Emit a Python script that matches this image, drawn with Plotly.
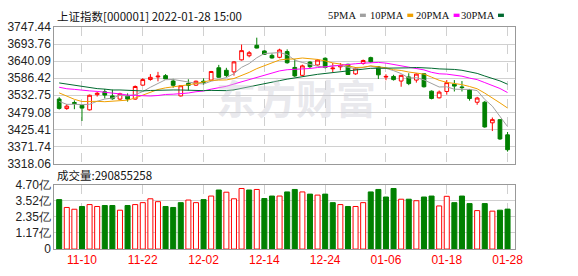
import plotly.graph_objects as go
import pandas as pd

# ---------------- data ----------------
title_text = "上证指数[000001] 2022-01-28 15:00"
dates = ["11-05", "11-08", "11-09", "11-10", "11-11", "11-12", "11-15", "11-16", "11-17", "11-18",
         "11-19", "11-22", "11-23", "11-24", "11-25", "11-26", "11-29", "11-30", "12-01", "12-02",
         "12-03", "12-06", "12-07", "12-08", "12-09", "12-10", "12-13", "12-14", "12-15", "12-16",
         "12-17", "12-20", "12-21", "12-22", "12-23", "12-24", "12-27", "12-28", "12-29", "12-30",
         "12-31", "01-04", "01-05", "01-06", "01-07", "01-10", "01-11", "01-12", "01-13", "01-14",
         "01-17", "01-18", "01-19", "01-20", "01-21", "01-24", "01-25", "01-26", "01-27", "01-28"]

opens = [3521.0, 3491.0, 3510.0, 3501.0, 3487.0, 3534.7, 3543.7, 3530.8, 3520.8, 3530.8,
         3520.8, 3564.6, 3582.4, 3590.4, 3594.4, 3577.5, 3530.8, 3570.0, 3564.6, 3577.0,
         3580.5, 3619.2, 3611.3, 3606.3, 3644.0, 3657.0, 3689.8, 3672.0, 3658.0, 3652.0,
         3670.0, 3620.2, 3595.4, 3637.0, 3628.0, 3649.0, 3616.0, 3622.0, 3630.0, 3600.0,
         3632.6, 3651.0, 3622.0, 3590.0, 3592.0, 3577.5, 3590.4, 3580.5, 3600.3, 3545.7,
         3524.8, 3544.7, 3567.5, 3559.0, 3549.6, 3510.9, 3510.9, 3446.3, 3456.2, 3408.5]
highs = [3527.0, 3505.0, 3516.8, 3503.0, 3535.0, 3543.7, 3552.6, 3550.6, 3540.7, 3538.7,
         3563.6, 3586.4, 3599.3, 3606.3, 3599.3, 3584.4, 3564.0, 3583.0, 3579.0, 3586.0,
         3609.3, 3628.2, 3619.0, 3640.0, 3692.0, 3672.0, 3713.7, 3673.9, 3664.0, 3679.0,
         3677.0, 3647.0, 3629.0, 3640.0, 3646.0, 3652.0, 3634.0, 3634.0, 3632.0, 3621.0,
         3645.0, 3654.0, 3624.0, 3599.0, 3597.0, 3597.0, 3602.0, 3602.0, 3602.0, 3548.0,
         3547.7, 3580.5, 3580.5, 3577.5, 3552.6, 3527.8, 3515.0, 3463.0, 3457.0, 3417.4]
lows = [3488.0, 3487.0, 3489.0, 3452.0, 3485.0, 3528.8, 3522.8, 3518.8, 3518.0, 3512.9,
        3518.8, 3563.0, 3578.5, 3576.5, 3584.0, 3556.6, 3528.8, 3548.0, 3562.0, 3566.0,
        3578.5, 3587.4, 3590.0, 3594.5, 3642.0, 3652.0, 3679.9, 3660.0, 3648.0, 3649.0,
        3632.0, 3590.4, 3593.0, 3618.0, 3626.0, 3617.0, 3605.0, 3611.0, 3597.0, 3597.0,
        3629.0, 3635.0, 3584.0, 3580.0, 3579.0, 3559.6, 3564.6, 3572.5, 3557.0, 3520.0,
        3522.8, 3534.7, 3544.7, 3544.7, 3515.9, 3503.0, 3431.0, 3420.4, 3392.6, 3355.8]
closes = [3491.6, 3498.6, 3507.0, 3492.5, 3532.8, 3539.1, 3533.3, 3521.8, 3537.4, 3520.7,
          3560.4, 3582.1, 3589.1, 3592.7, 3584.2, 3564.1, 3562.7, 3563.9, 3576.9, 3573.8,
          3607.4, 3589.3, 3595.1, 3637.6, 3673.0, 3666.4, 3681.1, 3661.5, 3650.0, 3675.0,
          3635.0, 3593.6, 3625.1, 3622.6, 3643.3, 3620.0, 3618.0, 3626.0, 3598.0, 3618.0,
          3642.0, 3638.0, 3597.0, 3592.0, 3582.0, 3595.4, 3569.5, 3599.3, 3559.6, 3522.8,
          3542.7, 3572.5, 3561.6, 3557.0, 3522.6, 3524.1, 3433.3, 3456.2, 3395.6, 3361.8]
# closes of the 29 sessions before the first bar (for the moving averages)
prior_closes = [3607.1, 3614.0, 3628.5, 3642.2, 3613.1, 3582.8, 3602.2, 3536.3, 3568.2, 3592.2,
                3591.7, 3546.9, 3561.8, 3558.3, 3572.4, 3568.1, 3593.2, 3587.0, 3594.8, 3582.6,
                3609.9, 3597.6, 3562.3, 3518.4, 3547.3, 3544.5, 3505.6, 3498.5, 3526.9]
volumes = [360000000, 303000000, 290000000, 310000000, 324000000, 310000000, 317000000, 317000000, 283000000, 317000000,
           324000000, 338000000, 366000000, 345000000, 310000000, 303000000, 338000000, 357000000, 338000000, 360000000,
           386000000, 430000000, 414000000, 366000000, 441000000, 430000000, 434000000, 368000000, 386000000, 386000000,
           416000000, 434000000, 416000000, 400000000, 393000000, 400000000, 338000000, 324000000, 310000000, 310000000,
           338000000, 416000000, 434000000, 379000000, 441000000, 363000000, 363000000, 352000000, 379000000, 386000000,
           314000000, 384000000, 338000000, 386000000, 331000000, 280000000, 331000000, 276000000, 283000000, 290855258]

ma_periods = [5, 10, 20, 30]
ma_names = ["5PMA", "10PMA", "20PMA", "30PMA"]
ma_colors = ["#a0a0a0", "#f0a000", "#ff00ff", "#006a30"]

price_ticks = [3318.06, 3371.74, 3425.41, 3479.08, 3532.75, 3586.42, 3640.09, 3693.76, 3747.44]
price_ticktext = ["3318.06", "3371.74", "3425.41", "3479.08", "3532.75", "3586.42", "3640.09", "3693.76", "3747.44"]
vol_ticks = [0, 1.175, 2.35, 3.525, 4.70]
vol_ticktext = ["0", "1.17亿", "2.35亿", "3.52亿", "4.70亿"]
date_tick_idx = [3, 11, 19, 27, 35, 43, 51, 59]

# ---------------- derived ----------------
W, H = 578, 276
RED = "#ff0000"
GREEN = "#008000"
n = len(closes)
xs = list(range(n))
all_closes = pd.Series(prior_closes + closes)
mas = [all_closes.rolling(p).mean().iloc[len(prior_closes):].tolist() for p in ma_periods]
prev_close = [prior_closes[-1]] + closes[:-1]
vol_up = [c >= p for c, p in zip(closes, prev_close)]
vol_yi = [v / 1e8 for v in volumes]


def px_x(x):
    return x / W


def px_y(y):
    return 1 - y / H


fig = go.Figure()

# volume bars
fig.add_trace(go.Bar(
    x=xs, y=vol_yi, xaxis="x2", yaxis="y2", width=0.66,
    marker=dict(color=["#ffffff" if u else GREEN for u in vol_up],
                line=dict(color=[RED if u else GREEN for u in vol_up], width=1)),
    showlegend=False, hoverinfo="skip"))

# candles
fig.add_trace(go.Candlestick(
    x=xs, open=opens, high=highs, low=lows, close=closes,
    increasing=dict(line=dict(color=RED, width=1), fillcolor="#ffffff"),
    decreasing=dict(line=dict(color=GREEN, width=1), fillcolor=GREEN),
    whiskerwidth=0, showlegend=False, hoverinfo="skip"))

# moving averages
for vals, name, col in zip(mas, ma_names, ma_colors):
    fig.add_trace(go.Scatter(x=xs, y=vals, mode="lines", name=name,
                             line=dict(color=col, width=1), showlegend=False, hoverinfo="skip"))

xrange = [-0.65, 59.95]
dom_x = [px_x(55), px_x(522)]
fig.update_layout(
    width=W, height=H, margin=dict(l=0, r=0, t=0, b=0),
    paper_bgcolor="white", plot_bgcolor="white",
    font=dict(family="Liberation Sans, Arial", size=12, color="#222"),
    boxgap=0.3,
    xaxis=dict(domain=dom_x, range=xrange, anchor="y", showticklabels=False,
               tickvals=date_tick_idx, ticks="", showgrid=True, gridcolor="#d0d0d0", griddash="dash",
               gridwidth=1, zeroline=False, showline=True, linecolor="#999", mirror=True,
               rangeslider=dict(visible=False)),
    yaxis=dict(domain=[px_y(165), px_y(21)], range=[3318.06, 3747.44], anchor="x",
               tickvals=price_ticks, ticktext=price_ticktext, ticks="",
               showgrid=True, gridcolor="#d0d0d0", gridwidth=1, zeroline=False,
               showline=True, linecolor="#999", mirror=True,
               tickfont=dict(size=12, color="#222")),
    xaxis2=dict(domain=dom_x, range=xrange, anchor="y2",
                tickvals=date_tick_idx, ticktext=[dates[i] for i in date_tick_idx], ticks="",
                tickfont=dict(size=12, color=RED),
                showgrid=True, gridcolor="#d0d0d0", griddash="dash", zeroline=False,
                showline=True, linecolor="#999", mirror=True),
    yaxis2=dict(domain=[px_y(255), px_y(187)], range=[0, 4.70], anchor="x2",
                tickvals=vol_ticks, ticktext=vol_ticktext, ticks="",
                showgrid=True, gridcolor="#d0d0d0", zeroline=False,
                showline=True, linecolor="#999", mirror=True,
                tickfont=dict(size=12, color="#222")),
)

annotations = []
# watermark
annotations.append(dict(text="<b>东方财富</b>", x=px_x(300), y=px_y(95), xref="paper", yref="paper",
                        xanchor="center", yanchor="middle", showarrow=False,
                        font=dict(family="Noto Sans CJK SC", size=40, color="rgba(205,205,215,0.45)")))
# title
annotations.append(dict(text=title_text, x=px_x(56), y=px_y(9), xref="paper", yref="paper",
                        xanchor="left", yanchor="middle", showarrow=False,
                        font=dict(family="Noto Sans CJK SC", size=11.5, color="#111")))
# volume label
annotations.append(dict(text="成交量:" + str(volumes[-1]), x=px_x(56), y=px_y(177), xref="paper", yref="paper",
                        xanchor="left", yanchor="middle", showarrow=False,
                        font=dict(family="Noto Sans CJK SC", size=11.5, color="#111")))

shapes = []
swatch_x = [365, 413, 460, 505]
for name, col, sx in zip(ma_names, ma_colors, swatch_x):
    annotations.append(dict(text=name, x=px_x(sx - 1.5), y=px_y(9), xref="paper", yref="paper",
                            xanchor="right", yanchor="middle", showarrow=False,
                            font=dict(family="Liberation Serif", size=10.5, color="#111")))
    shapes.append(dict(type="rect", xref="paper", yref="paper",
                       x0=px_x(sx), x1=px_x(sx + 6), y0=px_y(10.5), y1=px_y(7),
                       fillcolor=col, line=dict(width=0)))

fig.update_layout(annotations=annotations, shapes=shapes)
fig.write_html("out.html")
